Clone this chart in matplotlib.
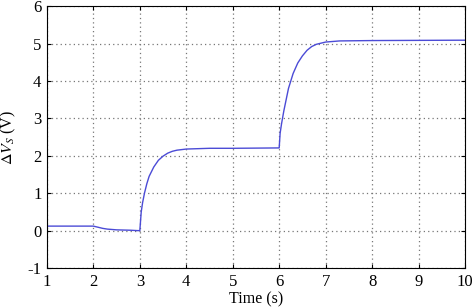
import numpy as np
import matplotlib.pyplot as plt

plt.rcParams['font.family'] = ['Liberation Serif', 'DejaVu Serif']
plt.rcParams['mathtext.fontset'] = 'stix'
plt.rcParams['axes.unicode_minus'] = False

# values
t = [1.0, 2.0, 2.1, 2.2, 2.3, 2.5, 2.8, 2.95, 3.0,
     3.03, 3.06, 3.1, 3.15, 3.2, 3.3, 3.4, 3.5, 3.6, 3.7, 3.8, 4.0, 4.5, 5.0, 6.0,
     6.02, 6.05, 6.1, 6.15, 6.2, 6.3, 6.4, 6.5, 6.6, 6.7, 6.8, 7.0, 7.3, 8.0, 10.0]
dv = [0.12, 0.12, 0.09, 0.06, 0.04, 0.02, 0.01, 0.0, 0.0,
      0.5, 0.75, 1.0, 1.25, 1.45, 1.7, 1.88, 1.99, 2.07, 2.12, 2.15, 2.18, 2.2, 2.2, 2.21,
      2.6, 2.85, 3.2, 3.5, 3.8, 4.2, 4.48, 4.67, 4.82, 4.92, 4.98, 5.04, 5.07, 5.08, 5.09]

fig = plt.figure(figsize=(4.74, 3.07), dpi=100)
ax = fig.add_axes([0.099, 0.127, 0.882, 0.853])
ax.plot(t, dv, color='#4b4bd6', linewidth=1.0)

ax.set_xlim(1, 10)
ax.set_ylim(-1, 6)
ax.set_xticks(range(1, 11))
ax.set_yticks(range(-1, 7))
ax.grid(True, linestyle=(0, (1, 2.5)), color='#777777', linewidth=0.9)
ax.tick_params(direction='in', top=True, right=True, labelsize=12, length=3, pad=4)
for s in ax.spines.values():
    s.set_linewidth(0.8)

ax.set_xlabel('Time (s)', fontsize=11.5, labelpad=1)
ax.text(-0.092, 0.5, r'$\Delta V_S$ (V)', fontsize=11.5, rotation=90,
        ha='center', va='center', transform=ax.transAxes)

fig.savefig('out.png', dpi=100)
